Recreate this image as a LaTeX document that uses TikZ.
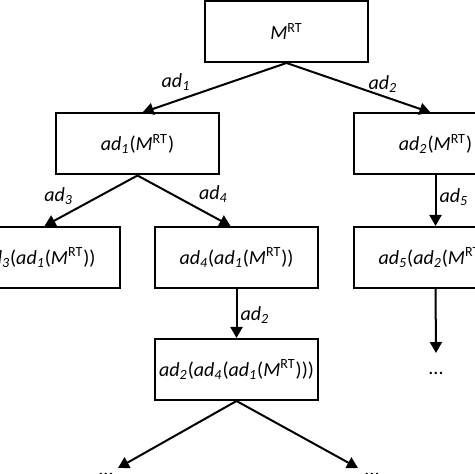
\documentclass[tikz,border=0pt]{standalone}
\usepackage{fontspec}
\setmainfont{Carlito}
\usetikzlibrary{arrows.meta}
\newcommand{\adx}[1]{\textit{ad}\textsubscript{\textit{#1}}}
\newcommand{\mrt}{\textit{M}\textsuperscript{RT}}
\begin{document}
\begin{tikzpicture}[x=0.5pt, y=0.5pt, line width=1pt,
    box/.style={draw, minimum width=81.5pt, minimum height=30.5pt, inner sep=2pt},
    arr/.style={-{Triangle[length=5.5pt,width=6pt]}},
    lbl/.style={inner sep=1.5pt}]
    \useasboundingbox (0,0) rectangle (474,474);

    \node[box] (rt) at (286.5, 442.5) { \mrt };
    \node[box] (a1) at (137.5, 330) { \adx{1}(\mrt) };
    \node[box] (a2) at (435.5, 330) { \adx{2}(\mrt) };
    \node[box] (a31) at (38.5, 216.5) { \adx{3}(\adx{1}(\mrt)) };
    \node[box] (a41) at (236.5, 216.5) { \adx{4}(\adx{1}(\mrt)) };
    \node[box] (a52) at (435.5, 216.5) { \adx{5}(\adx{2}(\mrt)) };
    \node[box] (a241) at (236.5, 104.5) { \adx{2}(\adx{4}(\adx{1}(\mrt))) };

    \coordinate (e1) at (118, 6);
    \coordinate (e2) at (358, 6);
    \coordinate (e3) at (436, 121);
    \node[anchor=base] (d1) at (106, -2) { ... };
    \node[anchor=base] (d2) at (372, -2) { ... };
    \node[anchor=base] (d3) at (436, 99) { ... };

    \draw[arr] (rt.south) -- ([xshift=2.5pt]a1.north) node[lbl, pos=0.64, above left] { \adx{1} };
    \draw[arr] (rt.south) -- ([xshift=-2.5pt]a2.north) node[lbl, pos=0.67, above] { \adx{2} };
    \draw[arr] (a1.south) -- ([xshift=3pt]a31.north) node[lbl, pos=0.65, above left] { \adx{3} };
    \draw[arr] (a1.south) -- ([xshift=-3pt]a41.north) node[lbl, pos=0.62, above right] { \adx{4} };
    \draw[arr] (a2.south) -- (a52.north) node[lbl, pos=0.42, right] { \adx{5} };
    \draw[arr] (a41.south) -- (a241.north) node[lbl, pos=0.53, right] { \adx{2} };
    \draw[arr] (a52.south) -- (e3);
    \draw[arr] (a241.south) -- (e1);
    \draw[arr] (a241.south) -- (e2);
\end{tikzpicture}
\end{document}
